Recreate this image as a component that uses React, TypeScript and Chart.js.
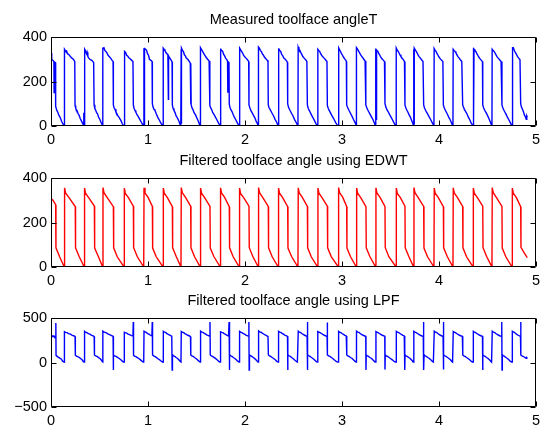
import React, { useEffect, useRef } from "react";
import { Chart, registerables } from "chart.js";

Chart.register(...registerables);

// ---------- data (time [s], angle [deg]) ----------
const measuredData: number[][] = [
  [0,328],[0.005,322],[0.01,300],[0.018,296],[0.026,292],[0.03,286],[0.032,150],[0.034,288],[0.045,285],[0.048,88],[0.06,70],[0.07,62],[0.08,50],[0.095,38],[0.11,20],[0.125,8],[0.13,2],
  [0.137,0],[0.139,345],[0.146,340],[0.152,336],[0.16,338],[0.17,325],[0.18,322],[0.19,318],[0.2,312],[0.215,305],[0.23,300],[0.245,290],[0.248,92],[0.255,80],[0.262,72],[0.27,68],[0.28,55],[0.29,48],[0.3,35],[0.315,22],[0.33,8],[0.336,0],[0.338,60],[0.34,0],
  [0.343,0],[0.345,342],[0.347,10],[0.349,345],[0.356,338],[0.366,325],[0.372,332],[0.38,312],[0.39,305],[0.4,300],[0.42,295],[0.44,285],[0.444,96],[0.452,78],[0.462,70],[0.47,60],[0.48,55],[0.49,40],[0.505,28],[0.52,12],[0.528,5],
  [0.533,0],[0.535,350],[0.545,352],[0.555,340],[0.565,335],[0.575,330],[0.585,320],[0.6,312],[0.615,305],[0.63,295],[0.64,290],[0.643,95],[0.65,82],[0.66,75],[0.67,62],[0.68,55],[0.69,45],[0.7,40],[0.72,25],[0.735,10],[0.745,3],
  [0.753,0],[0.755,330],[0.762,335],[0.77,330],[0.78,318],[0.79,315],[0.8,308],[0.815,302],[0.83,296],[0.845,290],[0.849,95],[0.856,80],[0.866,70],[0.875,62],[0.885,52],[0.9,42],[0.915,30],[0.93,18],[0.94,10],[0.948,2],
  [0.956,0],[0.958,350],[0.96,8],[0.962,352],[0.964,20],[0.966,348],[0.975,345],[0.985,340],[0.995,325],[1.005,318],[1.015,300],[1.03,295],[1.042,290],[1.045,100],[1.052,85],[1.062,75],[1.072,70],[1.085,55],[1.1,40],[1.115,28],[1.13,15],[1.145,5],[1.15,0],
  [1.155,0],[1.157,350],[1.165,345],[1.175,338],[1.185,330],[1.195,325],[1.205,318],[1.21,120],[1.212,315],[1.225,305],[1.24,295],[1.248,288],[1.251,95],[1.258,80],[1.268,70],[1.28,60],[1.29,45],[1.305,35],[1.32,20],[1.33,8],[1.336,0],
  [1.34,0],[1.342,345],[1.344,10],[1.346,350],[1.355,340],[1.365,335],[1.375,320],[1.385,315],[1.395,305],[1.41,300],[1.425,290],[1.436,282],[1.44,100],[1.442,280],[1.445,95],[1.455,80],[1.465,72],[1.475,60],[1.49,50],[1.505,35],[1.52,20],[1.53,8],[1.535,0],
  [1.539,0],[1.541,352],[1.55,345],[1.56,338],[1.57,330],[1.58,322],[1.59,315],[1.6,308],[1.615,300],[1.63,292],[1.636,285],[1.639,92],[1.648,80],[1.658,72],[1.668,60],[1.68,52],[1.695,40],[1.71,28],[1.725,15],[1.738,5],
  [1.745,0],[1.747,348],[1.749,15],[1.751,345],[1.76,340],[1.77,335],[1.78,322],[1.79,315],[1.8,305],[1.812,298],[1.82,292],[1.822,150],[1.824,290],[1.835,285],[1.838,98],[1.846,82],[1.856,72],[1.866,65],[1.878,52],[1.89,40],[1.905,28],[1.92,15],[1.935,3],
  [1.941,0],[1.943,345],[1.945,5],[1.947,350],[1.955,342],[1.965,335],[1.975,328],[1.985,318],[1.995,312],[2.01,305],[2.025,298],[2.038,290],[2.041,95],[2.05,82],[2.06,70],[2.07,62],[2.085,50],[2.1,38],[2.115,22],[2.128,10],[2.134,2],
  [2.137,0],[2.139,355],[2.148,350],[2.158,340],[2.168,335],[2.178,325],[2.19,318],[2.2,310],[2.215,302],[2.23,295],[2.237,288],[2.24,95],[2.248,82],[2.258,75],[2.27,65],[2.282,55],[2.295,45],[2.31,30],[2.325,18],[2.338,5],
  [2.343,0],[2.345,350],[2.347,20],[2.349,348],[2.358,340],[2.368,335],[2.378,322],[2.39,315],[2.4,305],[2.415,300],[2.43,292],[2.437,286],[2.44,100],[2.448,85],[2.458,75],[2.47,65],[2.482,55],[2.495,45],[2.51,30],[2.525,18],[2.54,5],
  [2.546,0],[2.548,355],[2.556,345],[2.566,340],[2.576,330],[2.586,322],[2.596,312],[2.61,305],[2.625,298],[2.638,290],[2.643,95],[2.652,80],[2.662,70],[2.672,62],[2.685,50],[2.7,38],[2.715,25],[2.73,12],[2.742,3],
  [2.749,0],[2.751,345],[2.76,340],[2.77,335],[2.78,325],[2.79,318],[2.8,312],[2.815,305],[2.83,298],[2.845,290],[2.849,92],[2.858,80],[2.868,70],[2.88,60],[2.892,50],[2.905,40],[2.92,28],[2.935,15],[2.95,5],[2.958,0],
  [2.962,0],[2.964,345],[2.966,10],[2.968,350],[2.975,342],[2.985,335],[2.995,325],[3.005,318],[3.015,310],[3.028,302],[3.04,295],[3.045,290],[3.048,95],[3.056,85],[3.066,75],[3.078,65],[3.09,55],[3.105,42],[3.12,28],[3.135,15],[3.145,5],
  [3.148,0],[3.15,352],[3.16,345],[3.17,338],[3.18,330],[3.19,322],[3.2,315],[3.212,308],[3.225,300],[3.238,292],[3.244,285],[3.247,95],[3.256,82],[3.266,72],[3.278,62],[3.29,52],[3.305,40],[3.32,28],[3.335,12],[3.342,3],
  [3.347,0],[3.349,348],[3.351,30],[3.353,345],[3.36,340],[3.37,335],[3.38,325],[3.39,318],[3.4,310],[3.412,302],[3.425,296],[3.438,290],[3.443,100],[3.452,85],[3.462,75],[3.475,65],[3.49,52],[3.505,40],[3.52,28],[3.535,15],[3.55,3],
  [3.557,0],[3.559,350],[3.568,342],[3.578,336],[3.588,328],[3.598,320],[3.608,312],[3.62,305],[3.632,298],[3.644,290],[3.649,95],[3.658,82],[3.668,72],[3.68,62],[3.692,50],[3.705,40],[3.718,25],[3.73,12],[3.736,3],
  [3.739,0],[3.741,345],[3.743,10],[3.745,350],[3.755,342],[3.765,335],[3.775,328],[3.785,318],[3.795,312],[3.808,305],[3.82,298],[3.835,290],[3.842,95],[3.85,82],[3.86,72],[3.872,62],[3.885,52],[3.9,40],[3.915,28],[3.93,15],[3.942,5],
  [3.948,0],[3.95,348],[3.96,340],[3.97,335],[3.98,325],[3.99,318],[4.0,310],[4.012,303],[4.025,296],[4.04,290],[4.045,95],[4.054,82],[4.064,72],[4.076,62],[4.088,52],[4.1,40],[4.115,28],[4.128,15],[4.14,3],
  [4.144,0],[4.146,345],[4.155,340],[4.165,335],[4.175,328],[4.185,320],[4.195,312],[4.208,305],[4.22,298],[4.235,290],[4.244,95],[4.252,85],[4.262,75],[4.275,65],[4.288,55],[4.3,42],[4.315,30],[4.33,15],[4.345,3],
  [4.351,0],[4.353,348],[4.355,15],[4.357,352],[4.359,20],[4.361,345],[4.37,340],[4.38,335],[4.39,325],[4.4,318],[4.41,310],[4.422,303],[4.435,296],[4.448,290],[4.451,95],[4.46,82],[4.47,72],[4.482,62],[4.495,52],[4.508,40],[4.52,28],[4.532,15],[4.542,3],
  [4.546,0],[4.548,345],[4.558,340],[4.568,335],[4.578,328],[4.588,320],[4.598,312],[4.61,305],[4.625,298],[4.64,290],[4.649,95],[4.658,82],[4.668,72],[4.68,62],[4.692,52],[4.705,40],[4.72,28],[4.735,15],[4.748,3],
  [4.753,0],[4.755,355],[4.757,20],[4.759,355],[4.762,345],[4.768,350],[4.778,338],[4.788,330],[4.798,322],[4.81,312],[4.822,305],[4.835,298],[4.842,100],[4.85,85],[4.86,75],[4.87,65],[4.88,50],[4.89,42],[4.9,30],[4.905,45],[4.91,40],
];

const edwtData: number[][] = [
  [0,308],[0.02,300],[0.048,280],[0.051,86],[0.09,45],
  [0.137,0],[0.14,356],[0.15,333],[0.182,314],[0.25,272],[0.253,86],[0.29,47],
  [0.343,0],[0.346,355],[0.356,332],[0.388,312],[0.447,274],[0.45,85],[0.487,48],
  [0.533,0],[0.536,357],[0.546,334],[0.578,313],[0.643,271],[0.646,86],[0.683,46],
  [0.753,0],[0.756,354],[0.766,331],[0.798,312],[0.849,273],[0.852,87],[0.889,47],
  [0.956,0],[0.959,356],[0.969,333],[1.001,313],[1.045,272],[1.048,85],[1.085,46],
  [1.155,0],[1.158,355],[1.168,332],[1.2,312],[1.251,271],[1.254,86],[1.291,47],
  [1.34,0],[1.343,357],[1.353,334],[1.385,314],[1.44,273],[1.443,86],[1.48,46],
  [1.539,0],[1.542,355],[1.552,332],[1.584,312],[1.639,272],[1.642,85],[1.679,47],
  [1.745,0],[1.748,356],[1.758,333],[1.79,313],[1.838,271],[1.841,86],[1.878,46],
  [1.941,0],[1.944,355],[1.954,331],[1.986,312],[2.041,273],[2.044,87],[2.081,47],
  [2.137,0],[2.14,357],[2.15,334],[2.182,313],[2.24,272],[2.243,86],[2.28,46],
  [2.343,0],[2.346,355],[2.356,332],[2.388,312],[2.44,271],[2.443,85],[2.48,47],
  [2.546,0],[2.549,356],[2.559,333],[2.591,313],[2.643,272],[2.646,86],[2.683,46],
  [2.749,0],[2.752,355],[2.762,332],[2.794,312],[2.849,273],[2.852,86],[2.889,47],
  [2.962,0],[2.965,357],[2.975,334],[3.007,314],[3.048,272],[3.051,85],[3.088,46],
  [3.148,0],[3.151,355],[3.161,332],[3.193,312],[3.247,271],[3.25,86],[3.287,47],
  [3.347,0],[3.35,356],[3.36,333],[3.392,313],[3.443,272],[3.446,87],[3.483,46],
  [3.557,0],[3.56,355],[3.57,331],[3.602,312],[3.649,273],[3.652,86],[3.689,47],
  [3.739,0],[3.742,357],[3.752,334],[3.784,313],[3.842,272],[3.845,85],[3.882,46],
  [3.948,0],[3.951,355],[3.961,332],[3.993,312],[4.045,271],[4.048,86],[4.085,47],
  [4.144,0],[4.147,356],[4.157,333],[4.189,313],[4.244,272],[4.247,86],[4.284,46],
  [4.351,0],[4.354,355],[4.364,332],[4.396,312],[4.451,273],[4.454,87],[4.491,47],
  [4.546,0],[4.549,357],[4.559,334],[4.591,313],[4.649,272],[4.652,85],[4.689,46],
  [4.753,0],[4.756,355],[4.766,332],[4.798,312],[4.842,271],[4.845,88],[4.88,62],[4.91,42],
];

const lpfData: number[][] = [
  [0,310],[0.01,300],[0.02,290],[0.03,300],[0.04,280],[0.048,290],[0.05,445],[0.052,80],[0.06,72],[0.075,60],[0.09,50],[0.105,40],[0.12,15],[0.135,5],
  [0.137,4],[0.14,345],[0.15,338],[0.165,335],[0.18,325],[0.2,318],[0.22,305],[0.24,298],[0.248,292],[0.251,82],[0.262,72],[0.275,65],[0.29,58],[0.305,45],[0.32,30],[0.335,8],
  [0.343,5],[0.346,350],[0.356,340],[0.37,336],[0.385,325],[0.4,318],[0.42,305],[0.44,296],[0.445,292],[0.448,85],[0.46,75],[0.475,68],[0.49,55],[0.505,45],[0.52,25],[0.53,8],
  [0.533,5],[0.536,352],[0.548,342],[0.56,338],[0.575,330],[0.59,320],[0.61,310],[0.63,300],[0.64,295],[0.642,-85],[0.645,85],[0.655,75],[0.67,68],[0.685,58],[0.7,48],[0.72,30],[0.74,10],[0.75,5],
  [0.753,5],[0.756,340],[0.766,335],[0.78,330],[0.795,320],[0.81,312],[0.83,302],[0.845,298],[0.848,455],[0.851,82],[0.86,72],[0.875,65],[0.89,55],[0.905,45],[0.92,32],[0.935,18],[0.95,6],
  [0.956,5],[0.959,352],[0.97,345],[0.982,338],[0.995,325],[1.01,318],[1.025,306],[1.04,298],[1.044,455],[1.047,85],[1.058,75],[1.07,68],[1.085,58],[1.1,45],[1.12,30],[1.14,12],[1.152,4],
  [1.155,6],[1.158,350],[1.17,342],[1.182,338],[1.195,325],[1.21,315],[1.228,305],[1.245,296],[1.249,-85],[1.252,88],[1.262,76],[1.275,68],[1.29,56],[1.305,45],[1.32,28],[1.335,8],
  [1.34,5],[1.343,348],[1.355,340],[1.368,336],[1.38,325],[1.395,316],[1.41,306],[1.428,298],[1.438,290],[1.441,85],[1.452,75],[1.465,68],[1.48,56],[1.495,45],[1.512,28],[1.53,10],
  [1.539,6],[1.542,352],[1.555,342],[1.568,338],[1.58,328],[1.595,318],[1.61,308],[1.628,300],[1.637,296],[1.639,455],[1.642,85],[1.652,75],[1.665,68],[1.68,58],[1.695,46],[1.712,30],[1.73,12],[1.74,5],
  [1.745,5],[1.748,345],[1.76,338],[1.772,335],[1.785,325],[1.8,315],[1.815,306],[1.83,298],[1.836,455],[1.839,-85],[1.842,88],[1.852,76],[1.865,68],[1.88,56],[1.895,45],[1.91,30],[1.925,15],[1.937,5],
  [1.941,6],[1.944,350],[1.955,342],[1.968,336],[1.98,326],[1.995,318],[2.01,308],[2.028,300],[2.038,296],[2.04,455],[2.043,-85],[2.046,86],[2.056,76],[2.07,68],[2.085,56],[2.1,44],[2.115,28],[2.13,10],
  [2.137,5],[2.14,355],[2.152,345],[2.165,340],[2.178,330],[2.192,320],[2.208,310],[2.225,300],[2.237,292],[2.241,85],[2.252,75],[2.265,68],[2.28,56],[2.295,45],[2.312,30],[2.33,10],
  [2.343,5],[2.346,350],[2.358,342],[2.37,338],[2.382,328],[2.396,318],[2.41,308],[2.428,300],[2.438,294],[2.44,-85],[2.443,86],[2.454,76],[2.467,68],[2.48,56],[2.495,45],[2.512,28],[2.53,12],[2.54,5],
  [2.546,5],[2.549,352],[2.56,342],[2.572,338],[2.585,326],[2.6,316],[2.615,306],[2.632,298],[2.64,295],[2.642,455],[2.645,-85],[2.648,88],[2.658,76],[2.67,68],[2.685,56],[2.7,45],[2.718,28],[2.735,10],[2.745,5],
  [2.749,5],[2.752,348],[2.763,340],[2.775,336],[2.788,326],[2.802,316],[2.818,306],[2.835,298],[2.846,294],[2.848,450],[2.851,85],[2.862,75],[2.875,68],[2.89,56],[2.905,45],[2.92,30],[2.94,12],[2.955,5],
  [2.962,5],[2.965,350],[2.975,342],[2.988,336],[3.0,326],[3.015,316],[3.03,306],[3.044,298],[3.049,85],[3.06,75],[3.072,68],[3.088,56],[3.104,45],[3.12,28],[3.138,10],[3.145,5],
  [3.148,5],[3.151,352],[3.162,342],[3.175,338],[3.188,326],[3.2,316],[3.218,306],[3.235,298],[3.245,294],[3.247,-85],[3.25,86],[3.26,76],[3.272,68],[3.288,56],[3.305,45],[3.32,28],[3.338,8],
  [3.347,5],[3.35,348],[3.36,340],[3.372,336],[3.385,326],[3.4,316],[3.415,306],[3.432,298],[3.441,294],[3.443,-80],[3.446,85],[3.456,75],[3.47,68],[3.485,56],[3.5,45],[3.518,30],[3.538,12],[3.55,5],
  [3.557,5],[3.56,350],[3.572,342],[3.585,336],[3.598,326],[3.612,316],[3.628,306],[3.642,298],[3.647,-85],[3.65,86],[3.66,76],[3.672,68],[3.688,56],[3.702,45],[3.718,28],[3.732,8],
  [3.739,5],[3.742,350],[3.752,342],[3.765,336],[3.778,326],[3.792,316],[3.808,306],[3.825,298],[3.838,294],[3.84,455],[3.843,-85],[3.846,88],[3.856,76],[3.868,68],[3.885,56],[3.9,45],[3.915,30],[3.932,12],[3.942,5],
  [3.948,5],[3.951,352],[3.962,342],[3.975,338],[3.988,326],[4.0,316],[4.015,306],[4.032,298],[4.042,294],[4.044,455],[4.047,-80],[4.05,86],[4.06,76],[4.072,68],[4.088,56],[4.102,45],[4.118,30],[4.132,12],[4.14,5],
  [4.144,5],[4.147,348],[4.158,340],[4.17,336],[4.182,326],[4.196,316],[4.212,306],[4.23,298],[4.241,294],[4.245,85],[4.255,75],[4.268,68],[4.284,56],[4.3,45],[4.316,30],[4.334,12],[4.345,5],
  [4.351,5],[4.354,350],[4.365,342],[4.378,336],[4.39,326],[4.405,316],[4.42,306],[4.438,298],[4.448,294],[4.45,-85],[4.453,86],[4.463,76],[4.476,68],[4.49,56],[4.505,45],[4.52,30],[4.536,12],[4.542,5],
  [4.546,5],[4.549,352],[4.56,342],[4.572,338],[4.585,326],[4.6,316],[4.615,306],[4.632,298],[4.645,294],[4.647,455],[4.65,-85],[4.653,88],[4.663,76],[4.676,68],[4.69,56],[4.705,45],[4.72,30],[4.736,12],[4.748,5],
  [4.753,5],[4.756,352],[4.766,345],[4.778,338],[4.79,326],[4.802,316],[4.816,306],[4.83,298],[4.84,294],[4.842,455],[4.845,85],[4.855,75],[4.866,70],[4.878,62],[4.888,55],[4.898,48],[4.905,55],[4.91,50],
];

const titles = [
  "Measured toolface angleT",
  "Filtered toolface angle using EDWT",
  "Filtered toolface angle using LPF",
];
const xRange = [0, 5];
const xStep = 1;
const yRanges = [[0, 400], [0, 400], [-500, 500]];
const ySteps = [200, 200, 500];
const colors = ["#0000ff", "#ff0000", "#0000ff"];
const seriesList = [measuredData, edwtData, lpfData];

const FONT = '"Liberation Sans", Arial, Helvetica, sans-serif';
const canvasTops = [0, 141, 281];
const CANVAS_H = 151;

const framePlugin = {
  id: "frame",
  afterDatasetsDraw(chart: any, _args: any, opts: any) {
    const { ctx, chartArea: a, scales } = chart;
    ctx.save();
    ctx.strokeStyle = "#000";
    ctx.lineWidth = 1;
    const L = Math.round(a.left) + 0.5;
    const R = Math.round(a.right) - 0.5;
    const T = Math.round(a.top) + 0.5;
    const B = Math.round(a.bottom) - 0.5;
    ctx.beginPath();
    ctx.rect(L, T, R - L, B - T);
    const tl = 5;
    scales.x.ticks.forEach((t: any) => {
      const px = Math.round(scales.x.getPixelForValue(t.value)) + 0.5;
      ctx.moveTo(px, B);
      ctx.lineTo(px, B - tl);
      ctx.moveTo(px, T);
      ctx.lineTo(px, T + tl);
    });
    scales.y.ticks.forEach((t: any) => {
      const py = Math.round(scales.y.getPixelForValue(t.value)) + 0.5;
      ctx.moveTo(L, py);
      ctx.lineTo(L + tl, py);
      ctx.moveTo(R, py);
      ctx.lineTo(R - tl, py);
    });
    ctx.stroke();
    ctx.fillStyle = "#000";
    ctx.font = `14.5px ${FONT}`;
    ctx.textAlign = "center";
    ctx.textBaseline = "middle";
    ctx.fillText(opts.title, (a.left + a.right) / 2, a.top - 17.5);
    ctx.restore();
  },
};

function fmt(v: number) {
  return v < 0 ? "\u2212" + String(Math.abs(v)) : String(v);
}

function SubPlot({ idx }: { idx: number }) {
  const ref = useRef<HTMLCanvasElement>(null);
  useEffect(() => {
    const canvas = ref.current!;
    const chart = new Chart(canvas, {
      type: "line",
      data: {
        datasets: [
          {
            data: seriesList[idx].map(([x, y]) => ({ x, y })),
            borderColor: colors[idx],
            borderWidth: 1.4,
            pointRadius: 0,
            tension: 0,
            fill: false,
          },
        ],
      },
      options: {
        animation: false,
        responsive: false,
        maintainAspectRatio: false,
        layout: { padding: { top: 37, right: 14, left: 0, bottom: 0 } },
        plugins: {
          legend: { display: false },
          tooltip: { enabled: false },
          frame: { title: titles[idx] },
        } as any,
        scales: {
          x: {
            type: "linear",
            min: xRange[0],
            max: xRange[1],
            ticks: {
              stepSize: xStep,
              color: "#000",
              font: { family: FONT, size: 14.5 },
              padding: 5,
              maxRotation: 0,
              autoSkip: false,
            },
            grid: { display: false, drawTicks: false },
            border: { display: false },
            afterFit(s: any) {
              s.height = 25;
            },
          },
          y: {
            type: "linear",
            min: yRanges[idx][0],
            max: yRanges[idx][1],
            ticks: {
              stepSize: ySteps[idx],
              color: "#000",
              font: { family: FONT, size: 14.5 },
              padding: 4,
              callback: (v: any) => fmt(Number(v)),
            },
            grid: { display: false, drawTicks: false },
            border: { display: false },
            afterFit(s: any) {
              s.width = 51;
            },
          },
        },
      },
      plugins: [framePlugin as any],
    });
    return () => chart.destroy();
  }, [idx]);
  return (
    <canvas
      ref={ref}
      width={550}
      height={CANVAS_H}
      style={{ position: "absolute", left: 0, top: canvasTops[idx], width: 550, height: CANVAS_H }}
    />
  );
}

export default function App() {
  return (
    <div style={{ position: "absolute", left: 0, top: 0, width: 550, height: 440, background: "#fff" }}>
      {[0, 1, 2].map((i) => (
        <SubPlot key={i} idx={i} />
      ))}
    </div>
  );
}
